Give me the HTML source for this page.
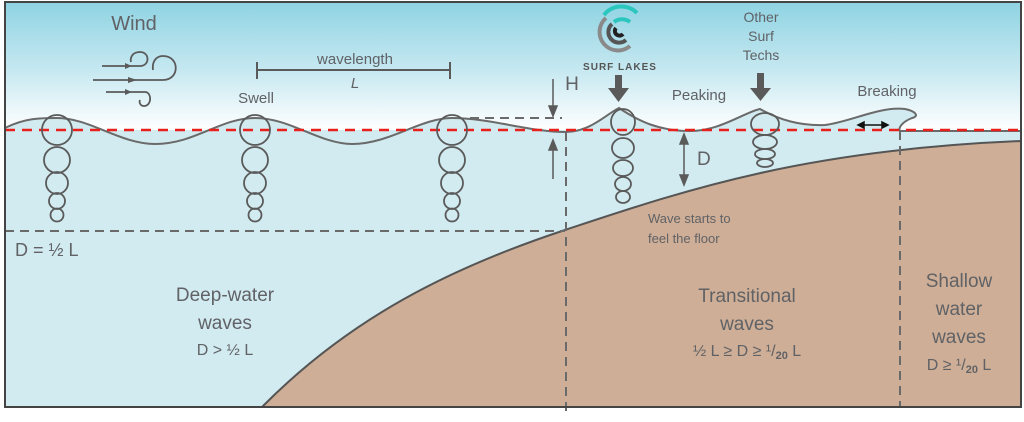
<!DOCTYPE html>
<html><head><meta charset="utf-8"><style>
html,body{margin:0;padding:0;background:#fff;}
svg{display:block}
text{font-family:"Liberation Sans",sans-serif;fill:#606266}
</style></head><body>
<svg width="1024" height="422" viewBox="0 0 1024 422" xmlns="http://www.w3.org/2000/svg">
<defs>
<linearGradient id="sky" x1="0" y1="0" x2="0" y2="1">
<stop offset="0" stop-color="#8fd3e3"/><stop offset="0.55" stop-color="#c8e9f1"/><stop offset="1" stop-color="#ffffff"/>
</linearGradient>
</defs>
<rect x="5" y="2" width="1016" height="405" fill="#d2ebf0"/>
<rect x="5" y="2" width="1016" height="128" fill="url(#sky)"/>
<path d="M5,128 C25,118 40,118 57,118 C90,118 120,144 155,144 C195,144 220,118 255,118 C290,118 320,144 352,144 C390,144 420,118 452,118 C490,118 530,132 565,132 C590,132 605,115 619,108 C640,122 660,131 690,131 C720,131 745,112 760,109 C780,120 800,126 825,125 C850,122 880,106 905,109 C915,111 920,116 912,118 C902,122 898,128 900,131 L1021,131 L1021,160 L5,160 Z" fill="#d2ebf0"/>
<path d="M5,128 C25,118 40,118 57,118 C90,118 120,144 155,144 C195,144 220,118 255,118 C290,118 320,144 352,144 C390,144 420,118 452,118 C490,118 530,132 565,132 C590,132 605,115 619,108 C640,122 660,131 690,131 C720,131 745,112 760,109 C780,120 800,126 825,125 C850,122 880,106 905,109 C915,111 920,116 912,118 C902,122 898,128 900,131 L1021,131" fill="none" stroke="#6a6a6a" stroke-width="2"/>
<path d="M262,407 C350,318 450,268 565,230 C680,192 800,150 1021,141 L1021,407 Z" fill="#ceae96"/>
<path d="M262,407 C350,318 450,268 565,230 C680,192 800,150 1021,141" fill="none" stroke="#555" stroke-width="2"/>
<g stroke="#6a6a6a" stroke-width="2" stroke-dasharray="9,6" fill="none">
<line x1="5" y1="231" x2="565" y2="231"/>
<line x1="566" y1="132" x2="566" y2="412"/>
<line x1="900" y1="131" x2="900" y2="407"/>
<line x1="470" y1="118" x2="562" y2="118"/>
</g>
<line x1="5" y1="130" x2="1021" y2="130" stroke="#e8201c" stroke-width="2.5" stroke-dasharray="10,7"/>
<g fill="none" stroke="#5a5a5a" stroke-width="1.8">
<g id="st"><circle cx="57" cy="130" r="15"/><circle cx="57" cy="160" r="13"/><circle cx="57" cy="183" r="11"/><circle cx="57" cy="201" r="8"/><circle cx="57" cy="215" r="6.5"/></g>
<use href="#st" x="198"/><use href="#st" x="395"/>
<ellipse cx="623" cy="122" rx="12" ry="13"/><ellipse cx="623" cy="148" rx="11" ry="10"/><ellipse cx="623" cy="168" rx="10" ry="8"/><ellipse cx="623" cy="184" rx="8" ry="7"/><ellipse cx="623" cy="197" rx="7" ry="6"/>
<ellipse cx="765" cy="124" rx="14" ry="11"/><ellipse cx="765" cy="142" rx="12" ry="7"/><ellipse cx="765" cy="154" rx="10" ry="5"/><ellipse cx="765" cy="163" rx="8" ry="4"/>
<path d="M102,66 L140,66 C150,66 150,52 140,52 C132,52 130,58 131,62"/>
<path d="M93,80 L163,80 C180,80 180,56 163,56 C155,56 152,63 153,70"/>
<path d="M106,92 L145,92 C152,92 152,106 144,106 C140,106 139,102 140,100"/>
</g>
<g fill="#5a5a5a"><path d="M125,63 L132,66 L125,69Z"/><path d="M128,77 L137,80 L128,83Z"/><path d="M125,89 L132,92 L125,95Z"/></g>
<g stroke="#5a5a5a" stroke-width="2"><line x1="257" y1="70" x2="450" y2="70"/><line x1="257" y1="62" x2="257" y2="79"/><line x1="450" y1="62" x2="450" y2="79"/></g>
<g stroke="#5a5a5a" stroke-width="1.5" fill="#5a5a5a">
<line x1="553" y1="79" x2="553" y2="114"/><path d="M549,106 L553,116 L557,106Z"/>
<line x1="553" y1="179" x2="553" y2="142"/><path d="M549,150 L553,140 L557,150Z"/>
<line x1="684" y1="136" x2="684" y2="183"/><path d="M680,144 L684,134 L688,144Z"/><path d="M680,175 L684,185 L688,175Z"/>
</g>
<g fill="#5a5a5a"><rect x="615" y="75" width="7" height="15"/><path d="M608,88 L629,88 L618.5,102Z"/>
<rect x="757" y="73" width="7" height="17"/><path d="M750,88 L771,88 L760.5,101Z"/></g>
<g stroke="#111" stroke-width="1.5" fill="#111"><line x1="862" y1="125" x2="884" y2="125"/><path d="M864,122 L858,125 L864,128Z"/><path d="M882,122 L888,125 L882,128Z"/></g>
<g fill="none" stroke-width="4">
<path d="M630,46 A17,17 0 1 1 606,18" stroke="#8a8a8a"/>
<path d="M626,40 A10,10 0 1 1 612,24" stroke="#555"/>
<path d="M623,34 A4,4 0 1 1 616,28" stroke="#222"/>
<path d="M604,15 A22,22 0 0 1 637,13" stroke="#2bc6bd"/>
<path d="M614,22 A13,13 0 0 1 630,22" stroke="#2bc6bd"/>
</g>
<text x="620" y="70" font-size="10" font-weight="bold" text-anchor="middle" letter-spacing="1" style="fill:#555">SURF LAKES</text>
<text x="134" y="30" font-size="20" text-anchor="middle">Wind</text>
<text x="355" y="64" font-size="15" text-anchor="middle">wavelength</text>
<text x="355" y="88" font-size="15" font-style="italic" text-anchor="middle">L</text>
<text x="256" y="103" font-size="15" text-anchor="middle">Swell</text>
<text x="572" y="90" font-size="19" text-anchor="middle">H</text>
<text x="699" y="100" font-size="15" text-anchor="middle">Peaking</text>
<text x="761" y="22" font-size="14" text-anchor="middle">Other</text>
<text x="761" y="41" font-size="14" text-anchor="middle">Surf</text>
<text x="761" y="60" font-size="14" text-anchor="middle">Techs</text>
<text x="887" y="96" font-size="15" text-anchor="middle">Breaking</text>
<text x="697" y="165" font-size="19">D</text>
<text x="648" y="223" font-size="13">Wave starts to</text>
<text x="648" y="243" font-size="13">feel the floor</text>
<text x="15" y="256" font-size="18">D = ½ L</text>
<text x="225" y="301" font-size="19" text-anchor="middle">Deep-water</text>
<text x="225" y="329" font-size="19" text-anchor="middle">waves</text>
<text x="225" y="355" font-size="16" text-anchor="middle">D &gt; ½ L</text>
<text x="747" y="302" font-size="19" text-anchor="middle">Transitional</text>
<text x="747" y="330" font-size="19" text-anchor="middle">waves</text>
<text x="747" y="356" font-size="16" text-anchor="middle">½ L ≥ D ≥ ¹/<tspan font-size="11" dy="3" font-weight="bold">20</tspan><tspan dy="-3"> L</tspan></text>
<text x="959" y="287" font-size="19" text-anchor="middle">Shallow</text>
<text x="959" y="315" font-size="19" text-anchor="middle">water</text>
<text x="959" y="343" font-size="19" text-anchor="middle">waves</text>
<text x="959" y="370" font-size="16" text-anchor="middle">D ≥ ¹/<tspan font-size="11" dy="3" font-weight="bold">20</tspan><tspan dy="-3"> L</tspan></text>
<rect x="5" y="2" width="1016" height="405" fill="none" stroke="#444" stroke-width="2"/>
</svg>
</body></html>
